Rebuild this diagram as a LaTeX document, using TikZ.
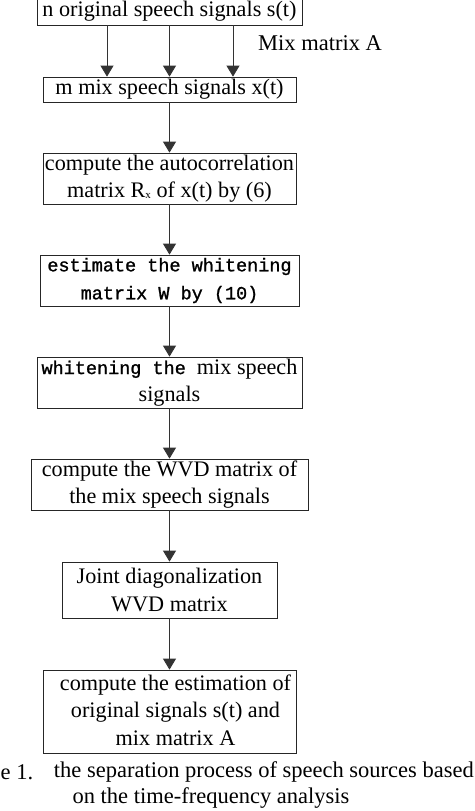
\documentclass[tikz,border=0pt]{standalone}
\usepackage{fontspec}
\setmainfont{Liberation Serif}
\newfontfamily\monof[FakeBold=1.2]{Liberation Mono}
\usetikzlibrary{arrows.meta}
\tikzset{
  box/.style={draw=black!85, line width=0.8pt, inner sep=0pt, align=center,
    font=\fontsize{22.2}{27.5}\selectfont},
  arr/.style={draw=black!80, line width=0.8pt, -{Triangle[width=13pt,length=11pt]}},
  txt/.style={inner sep=0pt, font=\fontsize{22.5}{26.5}\selectfont},
  mono/.style={font=\fontsize{18.5}{28}\monof}
}
\begin{document}
\begin{tikzpicture}[x=1pt,y=-1pt]
\useasboundingbox (0,0) rectangle (474,811);
\fill[white] (0,0) rectangle (474,811);
\node[box, minimum width=265pt, minimum height=28pt] (b1) at (169.5,11) {n original speech signals s(t)};
\node[box, minimum width=253pt, minimum height=25pt] (b2) at (169.5,89.5) {m mix speech signals x(t)};
\node[box, minimum width=253pt, minimum height=51pt] (b3) at (169.5,178.5) {compute the autocorrelation\\matrix R\raisebox{-1pt}{\fontsize{11}{11}\selectfont x} of x(t) by (6)};
\node[box, mono, minimum width=259pt, minimum height=51pt] (b4) at (169.5,280.5) {estimate the whitening\\matrix W by (10)};
\node[box, minimum width=265pt, minimum height=51pt] (b5) at (169.5,382.5) {{\fontsize{18.5}{27.5}\monof whitening the }mix speech\\signals};
\node[box, minimum width=277pt, minimum height=51pt] (b6) at (169.5,484.5) {compute the WVD matrix of\\the mix speech signals};
\node[box, minimum width=215pt, minimum height=56pt] (b7) at (169.5,590) {Joint diagonalization\\WVD matrix};
\node[box, minimum width=253pt, minimum height=83pt,
  label={[txt, font=\fontsize{22.2}{27.5}\selectfont, align=center, xshift=6pt, yshift=1.5pt]center:compute the estimation of\\original signals s(t) and\\mix matrix A}] (b8) at (169.5,711.5) {};
\node[txt, anchor=west] (mix) at (258,43) {Mix matrix A};
\draw[arr] ([xshift=-62.5pt]b1.south) -- ([xshift=-62.5pt]b2.north);
\draw[arr] (b1.south) -- (b2.north);
\draw[arr] ([xshift=63.5pt]b1.south) -- ([xshift=63.5pt]b2.north);
\draw[arr] (b2) -- (b3);
\draw[arr] (b3) -- (b4);
\draw[arr] (b4) -- (b5);
\draw[arr] (b5) -- (b6);
\draw[arr] (b6) -- (b7);
\draw[arr] (b7) -- (b8);
\node[txt, anchor=west] (cap0) at (0.5,772) {e 1.};
\node[txt, anchor=east] (cap1) at (474,772) {the separation process of speech sources based};
\node[txt] (cap2) at (211,798) {on the time-frequency analysis};
\end{tikzpicture}
\end{document}
